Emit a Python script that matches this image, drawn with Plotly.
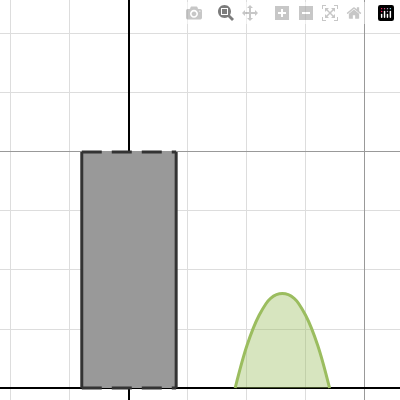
import plotly.graph_objects as go

# bar (rectangle) corners
bar_left = -0.4
bar_right = 0.4
bar_height = 2.0

# hump readings
hump_x = [0.9, 1.0, 1.1, 1.2, 1.3, 1.4, 1.5, 1.6, 1.7]
hump_y = [0.0, 0.36, 0.61, 0.76, 0.8, 0.76, 0.61, 0.36, 0.0]

fig = go.Figure()

# filled rectangle
fig.add_trace(go.Scatter(
    x=[bar_left, bar_right, bar_right, bar_left, bar_left],
    y=[0, 0, bar_height, bar_height, 0],
    mode="none", fill="toself", fillcolor="#999999"))
# solid sides
for xs in (bar_left, bar_right):
    fig.add_trace(go.Scatter(x=[xs, xs], y=[0, bar_height], mode="lines",
                             line=dict(color="#333333", width=3)))
# dashed top and bottom
for ys in (0, bar_height):
    fig.add_trace(go.Scatter(x=[bar_left, bar_right], y=[ys, ys], mode="lines",
                             line=dict(color="#333333", width=3, dash="20px,10px")))

fig.add_trace(go.Scatter(x=hump_x, y=hump_y, mode="lines", line_shape="spline",
                         fill="tozeroy", fillcolor="rgba(155,189,95,0.4)",
                         line=dict(color="#9bbd5f", width=3)))

axis = dict(showticklabels=False, ticks="", dtick=2, gridcolor="#999999", gridwidth=1,
            zeroline=True, zerolinecolor="black", zerolinewidth=1.5,
            minor=dict(dtick=0.5, showgrid=True, gridcolor="#dddddd", gridwidth=1))
fig.update_layout(
    width=400, height=400, margin=dict(l=0, r=0, t=0, b=0, pad=0),
    plot_bgcolor="white", paper_bgcolor="white", showlegend=False,
    xaxis=dict(axis, range=[-1.093, 2.297], layer="above traces"),
    yaxis=dict(axis, range=[-0.1017, 3.288]),
)

fig.write_html("out.html", post_script="document.body.style.margin='0';")
